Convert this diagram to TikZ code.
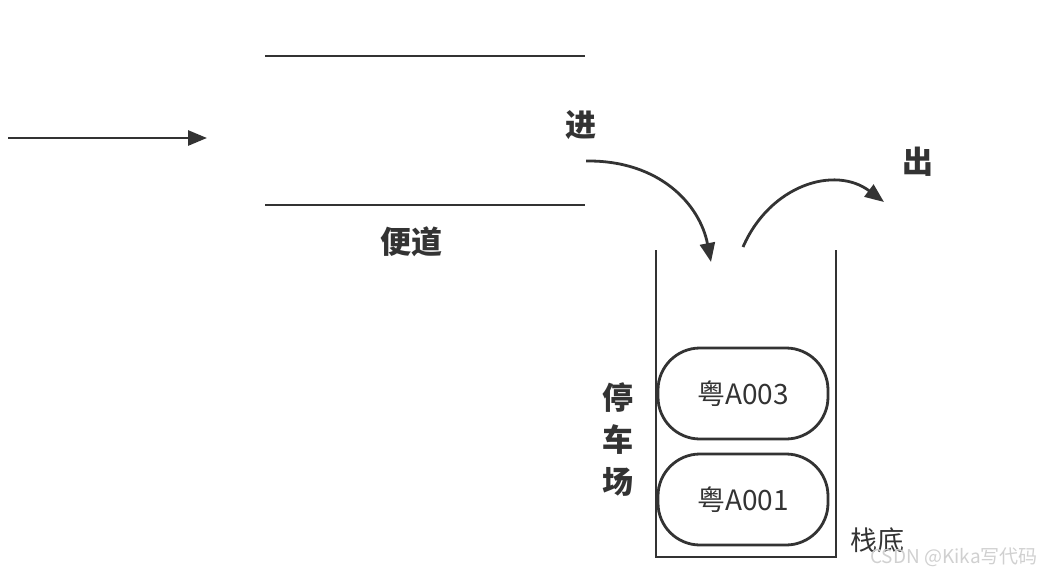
\documentclass[tikz,border=0pt]{standalone}
\usepackage{fontspec}
\setmainfont{Noto Sans CJK SC}
\usetikzlibrary{arrows.meta}
\definecolor{ink}{HTML}{333333}
\definecolor{wm}{HTML}{D0D0D0}
\tikzset{
  line/.style={draw=ink, line width=2.8pt},
  arr/.style={line, -{Triangle[length=19pt,width=15pt]}},
  bold/.style={text=ink, font=\bfseries\fontsize{31}{33}\selectfont, inner sep=0pt},
  plain/.style={text=ink, font=\fontsize{27}{29}\selectfont, inner sep=0pt},
  car/.style={line, rounded corners=42pt, minimum width=170pt, minimum height=91pt, inner sep=0pt, text=ink, font=\fontsize{28}{30}\selectfont},
}
\begin{document}
\begin{tikzpicture}[x=1pt,y=-1pt]
\useasboundingbox (0,0) rectangle (1042,576);
% road arrow
\coordinate (a0) at (8,138);
\coordinate (a1) at (207,138);
\draw[arr] (a0) -- (a1);
% road lines
\coordinate (r1) at (265,56); \coordinate (r2) at (585,56);
\coordinate (r3) at (265,205); \coordinate (r4) at (585,205);
\draw[line] (r1) -- (r2);
\draw[line] (r3) -- (r4);
\node[bold] (road) at (411,242) {便道};
% in / out
\node[bold] (in) at (581,125) {进};
\node[bold] (out) at (918,162) {出};
\coordinate (i0) at (586,161);
\coordinate (i1) at (711,262);
\draw[arr] (i0) .. controls (660,160) and (700,205) .. (i1);
\coordinate (o0) at (743,247);
\coordinate (o1) at (884,202);
\draw[arr] (o0) .. controls (770,185) and (835,165) .. (o1);
% stack
\coordinate (s1) at (656,250); \coordinate (s2) at (656,557);
\coordinate (s3) at (836,557); \coordinate (s4) at (836,250);
\draw[line] (s1) -- (s2) -- (s3) -- (s4);
\node[car] (c3) at (743,393.5) {粤A003};
\node[car] (c1) at (743,499.5) {粤A001};
\node[bold, align=center, font=\bfseries\fontsize{31}{42}\selectfont] (lot) at (618,440) {停\\车\\场};
\node[plain] (bottom) at (877,540) {栈底};
\node[text=wm, inner sep=0pt, font=\fontsize{19}{21}\selectfont] (wmk) at (954,557) {CSDN @Kika写代码};
\end{tikzpicture}
\end{document}
